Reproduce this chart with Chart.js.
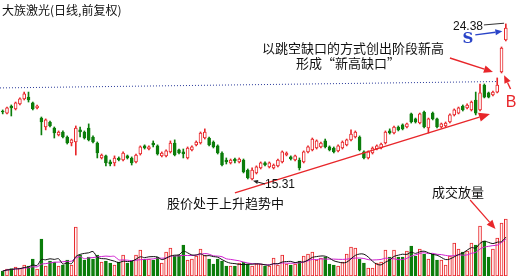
<!DOCTYPE html>
<html>
<head>
<meta charset="utf-8">
<script src="https://cdn.jsdelivr.net/npm/chart.js@4/dist/chart.umd.min.js"></script>
<style>
  html, body { margin: 0; padding: 0; background: #fff; }
</style>
</head>
<body>
<canvas id="chartK" width="517" height="280"></canvas>
<script>
// === 日线数据 ===
const opens  = [19.32,19.20,19.61,19.44,19.73,20.02,20.13,19.79,19.50,18.91,18.39,18.68,18.33,17.93,18.10,17.81,17.46,17.52,18.22,18.10,
                18.33,17.81,17.46,16.59,16.71,16.36,16.30,16.59,16.47,16.71,16.59,16.36,16.82,17.29,17.11,17.46,17.29,16.71,16.71,16.94,
                17.46,17.06,16.94,16.59,17.06,17.35,17.46,17.75,17.75,17.52,17.29,16.88,16.47,16.30,16.53,16.36,16.47,15.89,15.37,15.72,
                16.01,16.30,16.07,16.01,16.13,16.36,16.76,16.65,16.47,16.47,16.36,16.94,17.06,17.17,17.23,17.58,17.23,17.17,17.00,17.17,
                17.35,17.64,17.81,17.81,16.94,16.59,16.88,17.11,17.17,17.46,18.16,18.04,18.39,18.51,18.39,19.15,18.86,18.62,19.26,18.33,
                19.20,18.86,18.39,18.45,18.68,19.09,19.20,19.61,19.50,19.38,19.96,19.38,20.83,20.37,20.25,20.42,21.59,23.45];
const closes = [19.26,19.50,19.50,19.79,20.02,20.31,19.96,19.44,19.61,18.68,18.80,18.45,18.04,18.10,17.81,17.46,17.64,18.33,18.10,17.75,
                17.64,17.52,16.88,16.76,16.30,16.24,16.59,16.47,16.88,16.59,16.30,16.76,17.23,17.17,17.23,17.35,16.82,16.88,17.00,17.46,
                16.76,16.88,16.82,17.17,17.23,17.52,18.04,18.10,17.35,17.23,16.88,16.18,16.36,16.47,16.42,16.53,15.78,15.43,15.89,16.07,
                16.30,16.18,16.30,16.18,16.47,16.94,16.88,16.53,16.71,16.01,16.94,17.23,17.69,17.58,17.46,17.23,17.06,16.94,17.29,17.52,
                17.64,17.98,18.10,17.06,16.59,16.94,17.17,17.29,17.40,18.10,18.04,18.39,18.22,18.28,18.57,18.68,18.68,19.15,18.39,18.86,
                18.86,18.39,18.57,18.62,19.09,19.38,19.50,19.38,19.67,19.84,19.20,20.37,20.13,20.13,20.42,20.83,22.98,24.14];
const highs  = [19.38,19.55,19.67,19.84,20.08,20.42,20.42,19.84,19.67,18.97,18.86,18.74,18.39,18.16,18.16,17.87,17.69,18.45,18.39,18.16,
                18.57,17.87,17.52,16.82,16.76,16.47,16.71,16.65,16.94,16.76,16.65,16.82,17.29,17.35,17.29,17.58,17.35,16.94,17.06,17.58,
                17.64,17.11,17.11,17.23,17.29,17.58,18.10,18.28,17.81,17.58,17.35,16.94,16.59,16.53,16.59,16.59,16.53,15.95,16.01,16.13,
                16.36,16.36,16.36,16.24,16.53,17.00,16.94,16.71,16.76,16.59,17.00,17.29,17.75,17.64,17.52,17.69,17.29,17.23,17.35,17.58,
                17.69,18.22,18.16,17.87,17.00,17.00,17.23,17.35,17.46,18.16,18.28,18.45,18.45,18.57,18.62,19.20,18.91,19.20,19.32,18.91,
                19.26,18.91,18.62,18.68,19.15,19.44,19.55,19.67,19.73,19.90,20.42,20.89,20.89,20.42,20.48,21.24,23.04,24.38];
const lows   = [19.15,19.15,19.03,19.38,19.67,19.96,19.84,19.38,19.44,17.93,18.22,18.39,17.75,17.87,17.75,17.40,17.29,16.76,17.81,17.69,
                17.58,17.46,16.59,16.53,16.13,16.13,16.13,16.42,16.42,16.53,16.18,16.30,16.76,17.11,17.06,17.23,16.76,16.65,16.65,16.88,
                16.71,16.82,16.59,16.53,17.00,17.29,17.40,17.69,17.29,17.17,16.82,16.13,16.24,16.24,16.30,16.30,15.72,15.37,15.31,15.66,
                15.95,16.13,16.01,15.95,16.07,16.30,16.71,16.47,16.42,15.89,16.30,16.88,17.00,17.11,17.17,17.17,17.00,16.88,16.94,17.11,
                17.29,17.58,17.75,17.00,16.53,16.53,16.82,17.06,17.11,17.40,17.98,17.98,18.16,18.22,18.33,18.62,18.62,18.57,18.33,18.04,
                18.80,18.33,18.33,18.39,18.62,19.03,19.15,19.32,19.44,19.32,19.09,19.32,20.08,20.08,20.19,20.37,21.53,23.39];
const volumes = [5,7,7.5,9,8,11,10,17,7,37,10,15,14,10,11,16,11,49,21,16,
                 19,17,21,14,15,13,11,14,21,13,15,21,26,17,17,16,19,13,24,28,
                 20,21,31,16,17,20,27,21,17,12,17,15,10,10,10,13,14,12,10,12,
                 12,10,10,18,11,21,12,11,12,15,20,22,24,16,18,19,12,11,10,14,
                 22,29,28,17,13,8,8,13,14,26,19,26,19,19,25,30,20,27,22,17,
                 22,16,16,11,20,33,27,24,25,33,31,50,35,19,27,38,53,57];

// 压力线 (虚线) 与最高/最低价标注
const resistX = [-0.63, 115.0];
const resistY = [20.66, 21.03];
const highLabel = "24.38";
const lowLabel = "15.31";

// === 颜色 ===
const rojo = "#e8262a";
const verde = "#0b7d0b";
const azul = "#2a44c8";

const idx = opens.map((_, i) => i);
const up = idx.map(i => closes[i] >= opens[i]);
const colorOf = i => (up[i] ? rojo : verde);

function ma(n) {
  return volumes.map((_, i) => {
    const s = volumes.slice(Math.max(0, i - n + 1), i + 1);
    return { x: i, y: s.reduce((a, b) => a + b, 0) / s.length };
  });
}

function flecha(ctx, x1, y1, x2, y2, color, w, head) {
  const a = Math.atan2(y2 - y1, x2 - x1);
  const bx = x2 - head * Math.cos(a), by = y2 - head * Math.sin(a);
  ctx.strokeStyle = color; ctx.fillStyle = color; ctx.lineWidth = w;
  ctx.beginPath(); ctx.moveTo(x1, y1); ctx.lineTo(bx, by); ctx.stroke();
  if (head > 0) {
    ctx.beginPath(); ctx.moveTo(x2, y2);
    ctx.lineTo(bx + head * 0.42 * Math.sin(a), by - head * 0.42 * Math.cos(a));
    ctx.lineTo(bx - head * 0.42 * Math.sin(a), by + head * 0.42 * Math.cos(a));
    ctx.closePath(); ctx.fill();
  }
}

// === 标注 (文字与箭头) ===
const anotaciones = {
  id: "anotaciones",
  afterDatasetsDraw(chart) {
    const { ctx } = chart;
    const sx = chart.scales.x, sy = chart.scales.y, sv = chart.scales.yv;
    const P = (i, p) => [sx.getPixelForValue(i), sy.getPixelForValue(p)];
    const V = (i, v) => [sx.getPixelForValue(i), sv.getPixelForValue(v)];
    ctx.save();

    // 上升趋势线
    let a = P(54.0, 14.56), b = P(113.3, 19.15);
    flecha(ctx, a[0], a[1], b[0], b[1], rojo, 1.4, 11);
    // 指向跳空缺口
    a = P(104.0, 22.40); b = P(114.0, 21.59);
    flecha(ctx, a[0], a[1], b[0], b[1], rojo, 1.4, 9);
    // B
    a = P(118.1, 20.60); b = P(116.6, 21.40);
    flecha(ctx, a[0], a[1], b[0], b[1], rojo, 1.4, 8);
    // S
    a = P(109.9, 23.74); b = P(116.2, 23.95);
    flecha(ctx, a[0], a[1], b[0], b[1], azul, 1.4, 7);
    // 成交放量
    a = V(108.7, 76); b = V(114.6, 47);
    flecha(ctx, a[0], a[1], b[0], b[1], rojo, 1.2, 9);
    // 最低价
    a = P(61.0, 15.08); b = P(58.2, 15.26);
    flecha(ctx, a[0], a[1], b[0], b[1], "#222", 1, 5);
    // 最高价引线
    a = P(111.9, 24.32); b = P(116.6, 24.42);
    flecha(ctx, a[0], a[1], b[0], b[1], "#333", 1, 0);

    ctx.textBaseline = "middle";
    ctx.fillStyle = "#111";
    ctx.font = '12px "Noto Sans CJK SC"';
    ctx.textAlign = "left";
    ctx.fillText("大族激光(日线,前复权)", 2, 10);

    ctx.font = '13px "Noto Sans CJK SC"';
    ctx.fillText("以跳空缺口的方式创出阶段新高", 262, 48);
    ctx.textAlign = "center";
    ctx.fillText("形成“新高缺口”", 348, 63);
    ctx.textAlign = "left";
    ctx.fillText("股价处于上升趋势中", 167, 203);
    ctx.fillText("成交放量", 432, 192);

    ctx.font = '12px "Liberation Sans"';
    ctx.textAlign = "right";
    ctx.fillText(highLabel, 483, 27);
    ctx.textAlign = "left";
    ctx.fillText(lowLabel, 265, 185);

    ctx.font = 'bold 15px "DejaVu Serif"';
    ctx.fillStyle = azul;
    ctx.textAlign = "center";
    ctx.fillText("S", 468, 39);

    ctx.font = '16px "Liberation Sans"';
    ctx.fillStyle = rojo;
    ctx.fillText("B", 511, 103);
    ctx.restore();
  }
};

new Chart(document.getElementById("chartK"), {
  type: "bar",
  data: {
    datasets: [
      {
        label: "实体",
        data: idx.map(i => ({ x: i, y: [opens[i], closes[i]] })),
        backgroundColor: idx.map(i => (up[i] ? "#ffffff" : verde)),
        borderColor: idx.map(colorOf),
        borderWidth: 1,
        borderSkipped: false,
        barThickness: 3,
        minBarLength: 1,
        grouped: false,
        order: 1
      },
      {
        label: "影线",
        data: idx.map(i => ({ x: i, y: [lows[i], highs[i]] })),
        backgroundColor: idx.map(colorOf),
        borderWidth: 0,
        barThickness: 1,
        grouped: false,
        order: 2
      },
      {
        label: "成交量",
        yAxisID: "yv",
        data: idx.map(i => ({ x: i, y: volumes[i] })),
        backgroundColor: idx.map(i => (up[i] ? "#fff6f6" : verde)),
        borderColor: idx.map(colorOf),
        borderWidth: 1,
        borderSkipped: false,
        barThickness: 3,
        grouped: false,
        order: 3
      },
      {
        type: "line",
        label: "MA5",
        yAxisID: "yv",
        data: ma(5),
        borderColor: "#111111",
        borderWidth: 1,
        pointRadius: 0,
        tension: 0.35,
        order: 0
      },
      {
        type: "line",
        label: "MA10",
        yAxisID: "yv",
        data: ma(10),
        borderColor: "#d020d0",
        borderWidth: 1,
        pointRadius: 0,
        tension: 0.35,
        order: 0
      },
      {
        type: "line",
        label: "压力线",
        data: resistX.map((x, k) => ({ x: x, y: resistY[k] })),
        borderColor: "#2a3a9a",
        borderWidth: 1,
        borderDash: [1, 2],
        pointRadius: 0,
        order: 0
      }
    ]
  },
  options: {
    responsive: false,
    animation: false,
    devicePixelRatio: 1,
    layout: { padding: { top: 0, left: 0, right: 0, bottom: 4 } },
    plugins: { legend: { display: false }, tooltip: { enabled: false } },
    scales: {
      x: { type: "linear", min: -0.628, max: 119.6, offset: false, display: false },
      y: { type: "linear", min: 9.73, max: 25.77, beginAtZero: false, display: false },
      yv: { type: "linear", min: 0, max: 276, display: false }
    }
  },
  plugins: [anotaciones]
});
</script>
</body>
</html>
